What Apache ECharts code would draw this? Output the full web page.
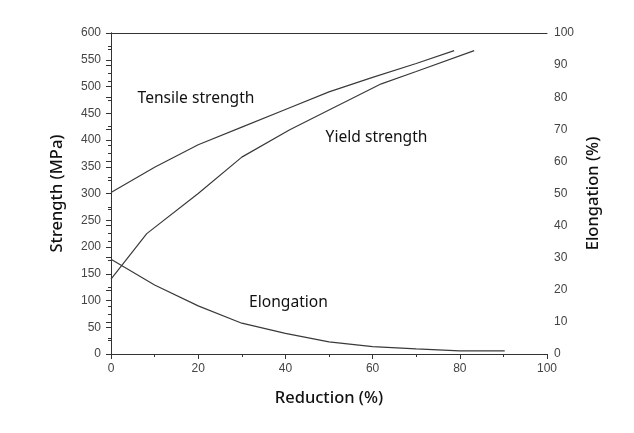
<!DOCTYPE html>
<html>
<head>
<meta charset="utf-8">
<script src="https://cdn.jsdelivr.net/npm/echarts@6/dist/echarts.min.js"></script>
<style>html,body{margin:0;padding:0;background:#fff}#c{width:634px;height:433px}</style>
</head>
<body>
<div id="c"></div>
<script>
// Reduction (%) values and the series
var tensileX = [0, 10, 20, 30, 40, 50, 60, 70, 78.7];
var tensileY = [302, 349, 391, 424, 457, 490, 517, 543, 567];
var yieldX = [0, 8.2, 20, 30, 41, 50, 62, 70, 83.3];
var yieldY = [140, 225, 300, 368, 419, 456, 505, 528, 567];
var elongX = [0, 10, 20, 30, 40, 50, 60, 70, 80, 90.3];
var elongY = [29.5, 21.5, 15.0, 9.6, 6.4, 3.8, 2.3, 1.6, 1.0, 1.0];
var curveLabels = [
  {text: 'Tensile strength', x: 19.5, y: 477, axis: 0},
  {text: 'Yield strength', x: 60.9, y: 404, axis: 0},
  {text: 'Elongation', x: 40.7, y: 15.9, axis: 1}
];

function pairs(xs, ys) { return xs.map(function (x, i) { return [x, ys[i]]; }); }

var axisColor = '#333';
var labelStyle = {color: '#444', fontSize: 12, fontFamily: 'Liberation Sans, Arial, sans-serif'};
var nameStyle = {color: '#111', fontSize: 16.5, fontWeight: 500, fontFamily: 'Noto Sans, Open Sans, sans-serif'};

var chart = echarts.init(document.getElementById('c'));
var lineStyle = {color: '#3a3a3a', width: 1.2};
chart.setOption({
  animation: false,
  backgroundColor: '#fff',
  grid: {left: 111, right: 87, top: 33, bottom: 79, containLabel: false},
  xAxis: [{
    type: 'value', min: 0, max: 100, interval: 20,
    name: 'Reduction (%)', nameLocation: 'middle', nameGap: 36, nameTextStyle: nameStyle,
    axisLine: {lineStyle: {color: axisColor, width: 1}},
    axisTick: {length: 5, lineStyle: {color: axisColor}},
    minorTick: {show: true, splitNumber: 2, length: 3, lineStyle: {color: axisColor}},
    axisLabel: Object.assign({margin: 9}, labelStyle),
    splitLine: {show: false}
  }, {
    type: 'value', min: 0, max: 100, position: 'top',
    axisLine: {show: true, onZero: false, lineStyle: {color: axisColor, width: 1}},
    axisTick: {show: false}, axisLabel: {show: false}, splitLine: {show: false}
  }],
  yAxis: [{
    type: 'value', min: 0, max: 600, interval: 50,
    name: 'Strength (MPa)', nameLocation: 'middle', nameGap: 45, nameTextStyle: nameStyle,
    axisLine: {show: true, lineStyle: {color: axisColor, width: 1}},
    axisTick: {show: true, length: 5, lineStyle: {color: axisColor}},
    minorTick: {show: true, splitNumber: 2, length: 3, lineStyle: {color: axisColor}},
    axisLabel: Object.assign({margin: 10}, labelStyle),
    splitLine: {show: false}
  }, {
    type: 'value', min: 0, max: 100, interval: 10, position: 'right',
    name: 'Elongation (%)', nameLocation: 'middle', nameGap: 37, nameRotate: 90, nameTextStyle: nameStyle,
    axisLine: {show: true, lineStyle: {color: axisColor, width: 1}},
    axisTick: {show: true, inside: true, length: 5, lineStyle: {color: axisColor}},
    minorTick: {show: true, splitNumber: 2, length: 3, lineStyle: {color: axisColor}},
    axisLabel: Object.assign({margin: 7}, labelStyle),
    splitLine: {show: false}
  }],
  series: [
    {type: 'line', name: 'Tensile strength', yAxisIndex: 0, data: pairs(tensileX, tensileY), symbol: 'none', lineStyle: lineStyle},
    {type: 'line', name: 'Yield strength', yAxisIndex: 0, data: pairs(yieldX, yieldY), symbol: 'none', lineStyle: lineStyle},
    {type: 'line', name: 'Elongation', yAxisIndex: 1, data: pairs(elongX, elongY), symbol: 'none', lineStyle: lineStyle}
  ]
});

var g = curveLabels.map(function (l) {
  var p = chart.convertToPixel({xAxisIndex: 0, yAxisIndex: l.axis}, [l.x, l.y]);
  return {
    type: 'text', x: p[0], y: p[1],
    style: {text: l.text, fill: '#111', fontSize: 15.6, fontFamily: 'Noto Sans, Open Sans, sans-serif',
      align: 'center', verticalAlign: 'middle'}
  };
});
chart.setOption({graphic: g});
</script>
</body>
</html>
